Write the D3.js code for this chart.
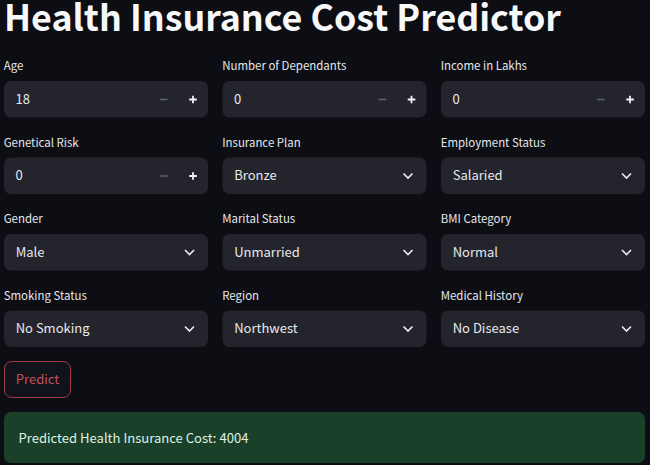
<!DOCTYPE html>
<html><head><meta charset="utf-8">
<script src="https://cdnjs.cloudflare.com/ajax/libs/d3/7.8.5/d3.min.js"></script>
<style>html,body{margin:0;padding:0;background:#0c0e13;overflow:hidden}svg{display:block}text{font-family:"Noto Sans CJK SC","Noto Sans",sans-serif}</style>
</head><body><script>
const title = "Health Insurance Cost Predictor";
const labels = ["Age","Number of Dependants","Income in Lakhs","Genetical Risk","Insurance Plan","Employment Status","Gender","Marital Status","BMI Category","Smoking Status","Region","Medical History"];
const values = ["18","0","0","0","Bronze","Salaried","Male","Unmarried","Normal","No Smoking","Northwest","No Disease"];
const kinds = ["n","n","n","n","s","s","s","s","s","s","s","s"];
const buttonLabel = "Predict";
const resultText = "Predicted Health Insurance Cost: 4004";
const W=650,H=465;
const svg=d3.select("body").append("svg").attr("width",W).attr("height",H);
svg.append("rect").attr("width",W).attr("height",H).attr("fill","#0c0e13");
svg.append("text").attr("x",4).attr("y",30.5).attr("font-size",35.8).attr("font-weight",700).attr("fill","#f7f8fa").text(title);
const col=d3.scalePoint().domain([0,1,2]).range([4,441]);
const row=d3.scaleLinear().domain([0,3]).range([81,310.5]);
const bw=204,bh=36.5;
const g=svg.selectAll("g.f").data(labels.map((l,i)=>({l,v:values[i],k:kinds[i],c:i%3,r:Math.floor(i/3)}))).join("g").attr("class","f")
 .attr("transform",d=>`translate(${col(d.c)},${row(d.r)})`);
g.append("text").attr("x",-0.3).attr("y",-11).attr("font-size",11.45).attr("fill","#e6e8ec").text(d=>d.l);
g.append("rect").attr("width",bw).attr("height",bh).attr("rx",7).attr("fill","#23242c");
g.append("text").attr("x",d=>d.k==="n"?11.5:11.7).attr("y",22.5).attr("font-size",13).attr("fill","#e8e9ec").text(d=>d.v);
const n=g.filter(d=>d.k==="n");
n.append("path").attr("d",`M156,18.5h7.5`).attr("stroke","#5f6168").attr("stroke-width",1.6);
n.append("path").attr("d",`M185.2,18.5h7.6M189,14.7v7.6`).attr("stroke","#f2f3f5").attr("stroke-width",1.8);
g.filter(d=>d.k==="s").append("path").attr("d",`M181,16l4.5,4.5l4.5,-4.5`).attr("fill","none").attr("stroke","#e8e9ec").attr("stroke-width",1.7);
svg.append("rect").attr("x",4.5).attr("y",361.5).attr("width",66).attr("height",36).attr("rx",7).attr("fill","#11131a").attr("stroke","#a33a48").attr("stroke-width",1);
svg.append("text").attr("x",37.5).attr("y",384).attr("text-anchor","middle").attr("font-size",13).attr("fill","#c4505c").text(buttonLabel);
svg.append("rect").attr("x",4).attr("y",412).attr("width",641).attr("height",51).attr("rx",7).attr("fill","#1a402a");
svg.append("text").attr("x",18.5).attr("y",443).attr("font-size",13.05).attr("fill","#dff2e4").text(resultText);
</script></body></html>
